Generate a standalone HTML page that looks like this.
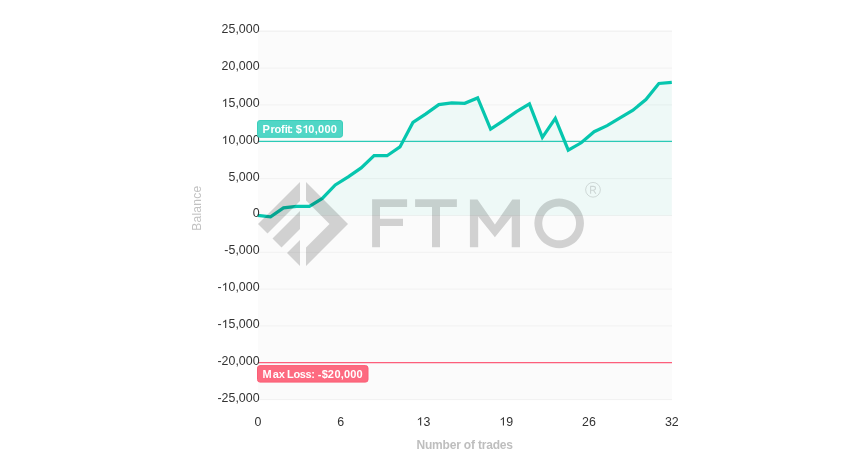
<!DOCTYPE html>
<html><head><meta charset="utf-8">
<style>
html,body{margin:0;padding:0;background:#fff;}
body{width:859px;height:450px;overflow:hidden;position:relative;font-family:"Liberation Sans",sans-serif;}
svg{position:absolute;left:0;top:0;will-change:transform;}
text{font-family:"Liberation Sans",sans-serif;}
</style></head><body>
<svg width="859" height="450" viewBox="0 0 859 450">
<rect x="258" y="30" width="414" height="370" fill="#fbfbfb"/>
<line x1="258" x2="672" y1="31.30" y2="31.30" stroke="#f1f1f1" stroke-width="1"/>
<line x1="258" x2="672" y1="68.13" y2="68.13" stroke="#f1f1f1" stroke-width="1"/>
<line x1="258" x2="672" y1="104.96" y2="104.96" stroke="#f1f1f1" stroke-width="1"/>
<line x1="258" x2="672" y1="141.79" y2="141.79" stroke="#f1f1f1" stroke-width="1"/>
<line x1="258" x2="672" y1="178.62" y2="178.62" stroke="#f1f1f1" stroke-width="1"/>
<line x1="258" x2="672" y1="215.45" y2="215.45" stroke="#f1f1f1" stroke-width="1"/>
<line x1="258" x2="672" y1="252.28" y2="252.28" stroke="#f1f1f1" stroke-width="1"/>
<line x1="258" x2="672" y1="289.11" y2="289.11" stroke="#f1f1f1" stroke-width="1"/>
<line x1="258" x2="672" y1="325.94" y2="325.94" stroke="#f1f1f1" stroke-width="1"/>
<line x1="258" x2="672" y1="362.77" y2="362.77" stroke="#f1f1f1" stroke-width="1"/>
<line x1="258" x2="672" y1="399.60" y2="399.60" stroke="#f1f1f1" stroke-width="1"/>

<polygon points="257.60,215.50 257.60,215.30 270.54,216.90 283.49,207.90 296.43,206.30 309.38,206.30 322.32,198.40 335.26,185.00 348.21,176.80 361.15,167.90 374.09,155.70 387.04,155.70 399.98,146.90 412.93,122.40 425.87,113.90 438.81,104.60 451.76,102.80 464.70,103.30 477.64,97.90 490.59,129.00 503.53,120.60 516.47,111.70 529.42,103.90 542.36,137.30 555.31,118.40 568.25,150.20 581.19,142.80 594.14,131.70 607.08,125.70 620.02,117.90 632.97,110.20 645.91,99.50 658.86,83.50 671.80,82.40 671.80,215.50" fill="rgba(0,206,184,0.052)"/>
<line x1="258" x2="672" y1="141.4" y2="141.4" stroke="#2bcab6" stroke-width="1.4"/>
<line x1="258" x2="672" y1="362.6" y2="362.6" stroke="#fd5e7b" stroke-width="1.3"/>
<polyline points="257.60,215.30 270.54,216.90 283.49,207.90 296.43,206.30 309.38,206.30 322.32,198.40 335.26,185.00 348.21,176.80 361.15,167.90 374.09,155.70 387.04,155.70 399.98,146.90 412.93,122.40 425.87,113.90 438.81,104.60 451.76,102.80 464.70,103.30 477.64,97.90 490.59,129.00 503.53,120.60 516.47,111.70 529.42,103.90 542.36,137.30 555.31,118.40 568.25,150.20 581.19,142.80 594.14,131.70 607.08,125.70 620.02,117.90 632.97,110.20 645.91,99.50 658.86,83.50 671.80,82.40" fill="none" stroke="#06c6ae" stroke-width="3.2" stroke-linejoin="miter"/>
<g fill="rgba(0,0,0,0.165)">
<polygon points="300,182 258,224 267.5,233.5 300,201"/>
<polygon points="300,211 272.5,238.5 281.5,247.5 300,229"/>
<polygon points="300,240 287,253 300,266"/>
<polygon points="306,182 348,224 306,266 306,247.5 329.5,224 306,200.5"/>
<path d="M372.1,199.2 H407.1 V207 H380 V218.8 H403 V225.9 H380 V247.2 H372.1 Z"/>
<path d="M415.1,199.2 H456.9 V207 H440 V247.2 H432 V207 H415.1 Z"/>
<path d="M469.9,199.5 H477.5 L494.9,224.5 L512.3,199.5 H520 V247.2 H511.7 V216.5 L494.9,237.2 L478.2,216.5 V247.2 H469.9 Z"/>
<path fill-rule="evenodd" d="M559.15,198.55 a24.8,24.8 0 1 0 0.01,0 Z M559.15,206.45 a16.9,16.9 0 1 0 0.01,0 Z"/>
</g>
<circle cx="593" cy="189.8" r="7.35" fill="none" stroke="rgba(0,0,0,0.13)" stroke-width="1"/>
<path d="M590.6,193.8 V186.4 H593.2 Q595.5,186.4 595.5,188.3 Q595.5,190.2 593.2,190.2 H590.6 M593.4,190.2 L595.9,193.8" fill="none" stroke="rgba(0,0,0,0.14)" stroke-width="1.1"/>
<g transform="translate(259.60,0) scale(1.035,1) translate(-259.60,0)"><text x="222.90 229.57 236.24 239.58 246.25 252.93" y="33.00" font-size="12" font-weight="normal" fill="#333" >25,000</text></g>
<g transform="translate(259.60,0) scale(1.035,1) translate(-259.60,0)"><text x="222.90 229.57 236.24 239.58 246.25 252.93" y="70.00" font-size="12" font-weight="normal" fill="#333" >20,000</text></g>
<g transform="translate(259.60,0) scale(1.035,1) translate(-259.60,0)"><text x="229.57 236.24 239.58 246.25 252.93" y="107.00" font-size="12" font-weight="normal" fill="#333" >5,000</text><path d="M226.31,107.00 L226.31,100.26 L225.83,100.70 L224.20,101.64 L224.20,100.64 L225.36,99.97 L226.30,99.15 L226.65,98.74 L227.37,98.74 L227.37,107.00Z" fill="#333"/></g>
<g transform="translate(259.60,0) scale(1.035,1) translate(-259.60,0)"><text x="229.57 236.24 239.58 246.25 252.93" y="144.00" font-size="12" font-weight="normal" fill="#333" >0,000</text><path d="M226.31,144.00 L226.31,137.26 L225.83,137.70 L224.20,138.64 L224.20,137.64 L225.36,136.97 L226.30,136.15 L226.65,135.74 L227.37,135.74 L227.37,144.00Z" fill="#333"/></g>
<g transform="translate(259.60,0) scale(1.035,1) translate(-259.60,0)"><text x="229.57 236.24 239.58 246.25 252.93" y="181.00" font-size="12" font-weight="normal" fill="#333" >5,000</text></g>
<g transform="translate(259.60,0) scale(1.035,1) translate(-259.60,0)"><text x="252.93" y="217.00" font-size="12" font-weight="normal" fill="#333" >0</text></g>
<g transform="translate(259.60,0) scale(1.035,1) translate(-259.60,0)"><text x="225.57 229.57 236.24 239.58 246.25 252.93" y="254.00" font-size="12" font-weight="normal" fill="#333" >-5,000</text></g>
<g transform="translate(259.60,0) scale(1.035,1) translate(-259.60,0)"><text x="218.90 229.57 236.24 239.58 246.25 252.93" y="291.00" font-size="12" font-weight="normal" fill="#333" >-0,000</text><path d="M226.31,291.00 L226.31,284.26 L225.83,284.70 L224.20,285.64 L224.20,284.64 L225.36,283.97 L226.30,283.15 L226.65,282.74 L227.37,282.74 L227.37,291.00Z" fill="#333"/></g>
<g transform="translate(259.60,0) scale(1.035,1) translate(-259.60,0)"><text x="218.90 229.57 236.24 239.58 246.25 252.93" y="328.00" font-size="12" font-weight="normal" fill="#333" >-5,000</text><path d="M226.31,328.00 L226.31,321.26 L225.83,321.70 L224.20,322.64 L224.20,321.64 L225.36,320.97 L226.30,320.15 L226.65,319.74 L227.37,319.74 L227.37,328.00Z" fill="#333"/></g>
<g transform="translate(259.60,0) scale(1.035,1) translate(-259.60,0)"><text x="218.90 222.90 229.57 236.24 239.58 246.25 252.93" y="365.00" font-size="12" font-weight="normal" fill="#333" >-20,000</text></g>
<g transform="translate(259.60,0) scale(1.035,1) translate(-259.60,0)"><text x="218.90 222.90 229.57 236.24 239.58 246.25 252.93" y="402.00" font-size="12" font-weight="normal" fill="#333" >-25,000</text></g>

<g transform="translate(257.90,0) scale(1.035,1) translate(-257.90,0)"><text x="254.56" y="425.60" font-size="12" font-weight="normal" fill="#333" >0</text></g>
<g transform="translate(340.68,0) scale(1.035,1) translate(-340.68,0)"><text x="337.34" y="425.60" font-size="12" font-weight="normal" fill="#333" >6</text></g>
<g transform="translate(423.46,0) scale(1.035,1) translate(-423.46,0)"><text x="423.46" y="425.60" font-size="12" font-weight="normal" fill="#333" >3</text><path d="M420.20,425.60 L420.20,418.86 L419.72,419.30 L418.09,420.24 L418.09,419.24 L419.25,418.57 L420.18,417.75 L420.54,417.34 L421.26,417.34 L421.26,425.60Z" fill="#333"/></g>
<g transform="translate(506.24,0) scale(1.035,1) translate(-506.24,0)"><text x="506.24" y="425.60" font-size="12" font-weight="normal" fill="#333" >9</text><path d="M502.98,425.60 L502.98,418.86 L502.50,419.30 L500.87,420.24 L500.87,419.24 L502.03,418.57 L502.96,417.75 L503.32,417.34 L504.04,417.34 L504.04,425.60Z" fill="#333"/></g>
<g transform="translate(589.02,0) scale(1.035,1) translate(-589.02,0)"><text x="582.35 589.02" y="425.60" font-size="12" font-weight="normal" fill="#333" >26</text></g>
<g transform="translate(671.80,0) scale(1.035,1) translate(-671.80,0)"><text x="665.13 671.80" y="425.60" font-size="12" font-weight="normal" fill="#333" >32</text></g>

<rect x="257.5" y="120.5" width="85" height="16.8" rx="2.5" fill="#50d6c6" stroke="#3bcfbb" stroke-width="1"/>
<text x="262.55 270.48 274.49 280.91 284.68 287.17 289.47 295.70 308.25 314.87 317.90 324.40 330.85" y="132.90" font-size="11" font-weight="bold" fill="#fff">Profit:$0,000</text><path d="M305.65,132.90 L305.65,127.21 L305.00,127.64 L303.39,128.17 L303.39,126.83 L304.90,126.13 L305.97,125.33 L307.11,125.33 L307.11,132.90Z" fill="#fff"/>
<rect x="257.5" y="365.6" width="110.5" height="16.5" rx="2.5" fill="#fd6a80" stroke="#fb5e76" stroke-width="1"/>
<text x="262.62 272.65 278.64 287.04 293.44 299.82 305.62 311.37 317.72 321.65 327.87 334.50 340.82 344.10 350.20 356.55" y="377.80" font-size="11" font-weight="bold" fill="#fff">MaxLoss:-$20,000</text>
<text x="416.50 424.98 432.12 442.60 449.74 456.22 460.70 463.84 470.98 474.79 477.93 481.74 486.22 492.70 499.84 506.33" y="448.75" font-size="12" font-weight="bold" fill="#bebebe" >Number of trades</text>
<g transform="translate(201.2,208.3) rotate(-90)"><text x="-22.43 -14.18 -7.25 -4.34 2.58 9.51 15.76" y="0.00" font-size="12" font-weight="normal" fill="#c2c2c2" >Balance</text></g>
</svg>
</body></html>
